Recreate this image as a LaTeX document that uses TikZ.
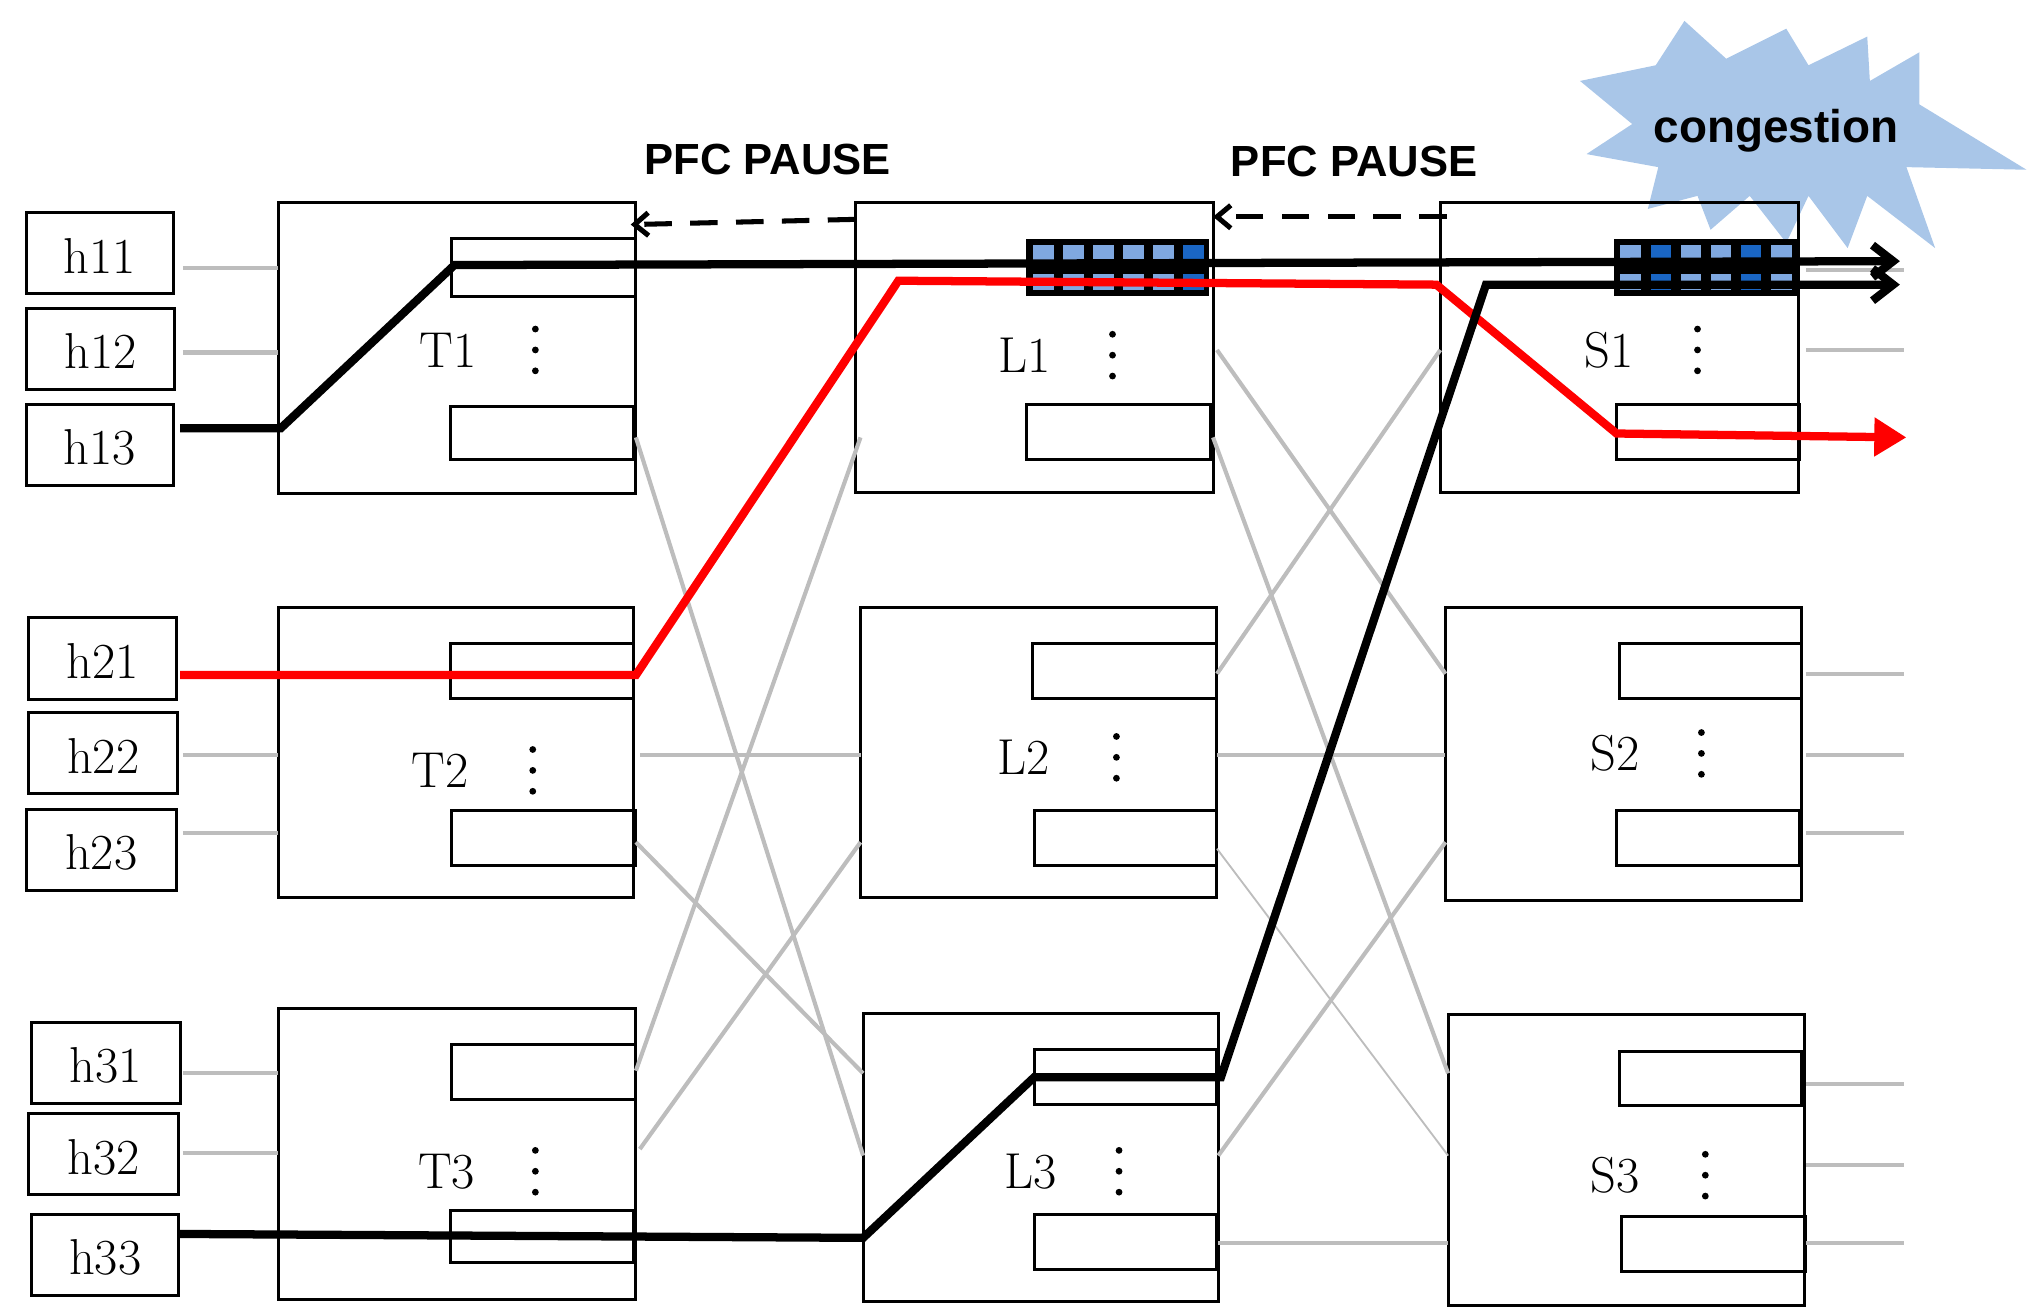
\documentclass[tikz,border=0pt]{standalone}
\usepackage{fontspec}
\setsansfont{Liberation Sans}
\usetikzlibrary{arrows.meta}
\definecolor{lb}{HTML}{7FA8E0}
\definecolor{db}{HTML}{1A66C4}
\definecolor{cloud}{HTML}{A9C6E8}
\definecolor{gl}{HTML}{BDBDBD}
\begin{document}
\begin{tikzpicture}[x=0.02cm,y=-0.02cm,
  box/.style={draw=black,line width=1.3pt},
  lbl/.style={font=\fontsize{22}{24}\selectfont,inner sep=0pt},
  gline/.style={draw=gl,line width=1.8pt},
  thin/.style={draw=gl,line width=0.8pt},
  path/.style={line width=3.6pt,line join=miter},
  pfc/.style={font=\sffamily\bfseries\fontsize{19}{22}\selectfont}]
\useasboundingbox (0,0) rectangle (1560,1003);
% congestion cloud
\fill[cloud] (1210,62) -- (1268,50) -- (1290,16) -- (1322,45) -- (1368,22) -- (1385,50) -- (1430,28) -- (1432,62) -- (1470,40) -- (1470,80) -- (1552,130) -- (1460,128) -- (1482,190) -- (1430,150) -- (1415,190) -- (1385,150) -- (1368,186) -- (1340,150) -- (1310,176) -- (1300,150) -- (1262,160) -- (1270,128) -- (1215,118) -- (1250,95) -- cycle;
\node[font=\sffamily\bfseries\fontsize{20}{22}\selectfont] (cong) at (1360,100) {congestion};
% hosts
\foreach \n/\xa/\ya/\xb/\yb in {h11/20/163/133/225,h12/20/236/134/298,h13/20/310/133/372,h21/22/473/135/536,h22/22/546/136/608,h23/20/620/135/682,h31/24/783/138/845,h32/22/853/137/915,h33/24/930/137/992}{
  \draw[box] (\xa,\ya) rectangle (\xb,\yb);
  \node[lbl] (\n) at ({(\xa+\xb)/2},{(\ya+\yb)/2+2}) {\n};
}
% switches
\foreach \n/\xa/\ya/\xb/\yb/\lx/\ly/\dx in {T1/213/155/487/378/343/268/410,T2/213/465/485/687/337/590/408,T3/213/772/487/995/342/897/410,L1/655/155/929/377/785/272/852,L2/659/465/932/687/784/580/855,L3/661/776/933/997/789/897/857,S1/1103/155/1377/377/1232/268/1300,S2/1107/465/1380/690/1237/577/1303,S3/1109/777/1382/1000/1237/900/1306}{
  \draw[box] (\xa,\ya) rectangle (\xb,\yb);
  \node[lbl] (\n) at (\lx,\ly) {\n};
  \foreach \o in {-16,0,16} \fill (\dx,\ly+\o) circle (2.6);
}
% ports
\foreach \xa/\ya/\xb/\yb in {346/183/487/227,345/311/485/352,345/493/485/535,346/621/487/663,346/800/487/842,345/927/485/967,786/310/927/352,791/493/932/535,792/621/932/663,792/804/932/846,792/930/932/972,1238/310/1378/352,1240/493/1380/535,1238/621/1378/663,1240/805/1380/847,1242/932/1383/974}
  \draw[box] (\xa,\ya) rectangle (\xb,\yb);
% gray links hosts
\foreach \y in {205,270,578,638,822,883}
  \draw[gline] (140,\y) -- (213,\y);
\foreach \y in {207,268,516,578,638,830,892,952}
  \draw[gline] (1383,\y) -- (1458,\y);
% gray cross links
\draw[gline] (487,335) -- (661,885);
\draw[gline] (487,820) -- (659,335);
\draw[gline] (490,578) -- (659,578);
\draw[gline] (487,645) -- (661,822);
\draw[gline] (490,880) -- (659,645);
\draw[gline] (932,268) -- (1107,516);
\draw[gline] (929,335) -- (1109,822);
\draw[gline] (932,516) -- (1103,268);
\draw[gline] (932,578) -- (1107,578);
\draw[thin] (932,650) -- (1109,885);
\draw[gline] (933,885) -- (1107,645);
\draw[gline] (933,952) -- (1109,952);
% queues
\foreach \qx/\pat in {786/{0,0,0,0,0,1},1236/{0,1,0,0,1,0}}{
  \fill[black] (\qx,183) rectangle (\qx+140,227);
  \foreach \d [count=\i from 0] in \pat {
    \ifnum\d=1 \def\cc{db}\else\def\cc{lb}\fi
    \fill[\cc] (\qx+5+\i*23,188) rectangle (\qx+21+\i*23,200);
    \fill[\cc] (\qx+5+\i*23,210) rectangle (\qx+21+\i*23,222);
  }
}
% paths
\coordinate (e1) at (1455,200);
\coordinate (e2) at (1460,335);
\coordinate (e3) at (1455,218);
\draw[path,-{Straight Barb[length=9pt,width=14pt]}] (138,328) -- (215,328) -- (348,203) -- (e1);
\draw[path,red,-{Triangle[length=14pt,width=18pt,angle'=60]}] (138,517) -- (487,517) -- (688,215) -- (1100,218) -- (1238,332) -- (e2);
\draw[path,-{Straight Barb[length=9pt,width=14pt]}] (138,945) -- (661,948) -- (792,825) -- (935,825) -- (1138,218) -- (e3);
% PFC
\coordinate (p1s) at (655,168); \coordinate (p1e) at (483,172);
\coordinate (p2s) at (1108,166); \coordinate (p2e) at (929,166);
\draw[line width=2.2pt,dash pattern=on 12pt off 8pt,-{Straight Barb[length=6pt,width=10pt]}] (p1s) -- (p1e);
\draw[line width=2.2pt,dash pattern=on 12pt off 8pt,-{Straight Barb[length=6pt,width=10pt]}] (p2s) -- (p2e);
\node[pfc] (pf1) at (588,122) {PFC PAUSE};
\node[pfc] (pf2) at (1037,124) {PFC PAUSE};
\end{tikzpicture}
\end{document}
